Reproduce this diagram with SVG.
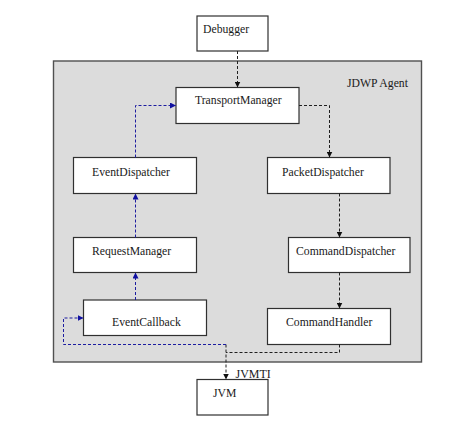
<svg xmlns="http://www.w3.org/2000/svg" width="474" height="426" viewBox="0 0 474 426">
<defs>
<style>
.box{fill:#ffffff;stroke:#303030;stroke-width:1.2}
.lbl{font-family:"Liberation Serif","Times New Roman",serif;font-size:11.7px;fill:#1a1a1a}
.blk{fill:none;stroke:#202020;stroke-width:1;stroke-dasharray:3,2}
.blu{fill:none;stroke:#1c1ca0;stroke-width:1;stroke-dasharray:3,2}
</style>
<marker id="ab" markerWidth="6" markerHeight="6" refX="5.5" refY="3" orient="auto" markerUnits="userSpaceOnUse">
<path d="M0,0 L6,3 L0,6 Z" fill="#101010"/>
</marker>
<marker id="au" markerWidth="6" markerHeight="6" refX="5.5" refY="3" orient="auto" markerUnits="userSpaceOnUse">
<path d="M0,0 L6,3 L0,6 Z" fill="#1010a0"/>
</marker>
</defs>
<rect width="474" height="426" fill="#ffffff"/>
<g id="agent">
<rect x="53.5" y="61" width="368" height="301" fill="#dcdcdc" stroke="#505050" stroke-width="1.4"/>
<text class="lbl" x="347" y="87">JDWP Agent</text>
</g>
<g id="debugger">
<rect class="box" x="197" y="16" width="71" height="35"/>
<text class="lbl" x="203" y="33">Debugger</text>
</g>
<g id="transportmanager">
<rect class="box" x="176" y="87.5" width="123" height="36"/>
<text class="lbl" x="195" y="104">TransportManager</text>
</g>
<g id="eventdispatcher">
<rect class="box" x="73.5" y="157.5" width="123" height="36"/>
<text class="lbl" x="92" y="176">EventDispatcher</text>
</g>
<g id="packetdispatcher">
<rect class="box" x="267.5" y="157.5" width="122.5" height="36"/>
<text class="lbl" x="282" y="176">PacketDispatcher</text>
</g>
<g id="requestmanager">
<rect class="box" x="73.5" y="237.5" width="123" height="35"/>
<text class="lbl" x="92" y="255">RequestManager</text>
</g>
<g id="commanddispatcher">
<rect class="box" x="288.5" y="237.5" width="121.5" height="35"/>
<text class="lbl" x="296" y="255">CommandDispatcher</text>
</g>
<g id="eventcallback">
<rect class="box" x="83.5" y="300" width="123" height="35.5"/>
<text class="lbl" x="112" y="326">EventCallback</text>
</g>
<g id="commandhandler">
<rect class="box" x="267.5" y="308.5" width="123" height="36"/>
<text class="lbl" x="286" y="326">CommandHandler</text>
</g>
<g id="jvm">
<rect class="box" x="197" y="379.5" width="71" height="35.5"/>
<text class="lbl" x="213" y="397">JVM</text>
</g>
<g id="connectors">
<path class="blk" d="M237.5,51 V87" marker-end="url(#ab)"/>
<path class="blk" d="M299,105.5 H329.5 V157" marker-end="url(#ab)"/>
<path class="blk" d="M339.5,193.5 V237" marker-end="url(#ab)"/>
<path class="blk" d="M339.5,272.5 V308" marker-end="url(#ab)"/>
<path class="blk" d="M339.5,344.5 V352.5 H226 M226,344.5 V379" marker-end="url(#ab)"/>
<path class="blu" d="M135.5,157.5 V105.5 H175.5" marker-end="url(#au)"/>
<path class="blu" d="M135.5,237.5 V194" marker-end="url(#au)"/>
<path class="blu" d="M135.5,300 V273" marker-end="url(#au)"/>
<path class="blu" d="M226,344.5 H63.5 V318 H83" marker-end="url(#au)"/>
<text class="lbl" x="235.5" y="378" style="font-size:12px">JVMTI</text>
</g>
</svg>
